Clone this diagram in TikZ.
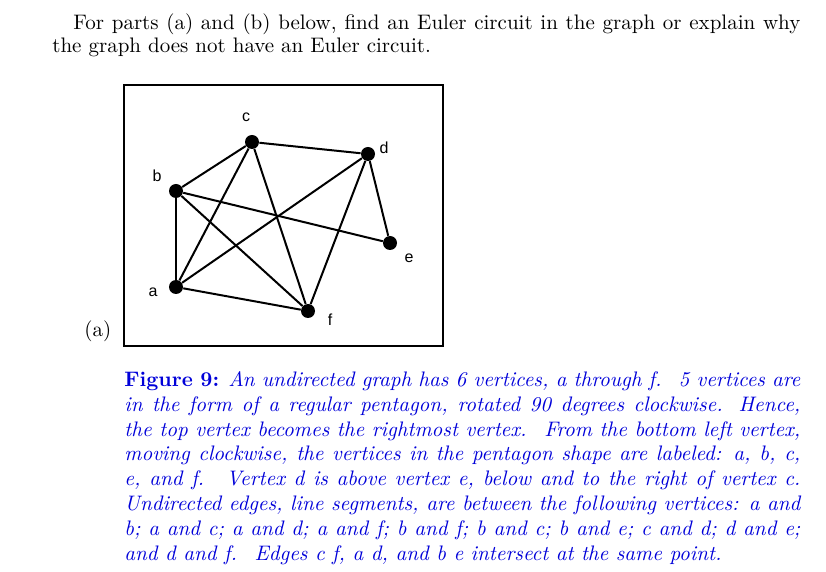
\documentclass[tikz,border=0pt]{standalone}
\usepackage{fontspec}
\newfontfamily\lblfont{Liberation Sans}
\begin{document}
\begin{tikzpicture}[x=0.5pt,y=-0.5pt,
  vtx/.style={circle,fill=black,inner sep=0pt,minimum size=7pt},
  lbl/.style={font=\lblfont\fontsize{8}{9}\selectfont},
  edge/.style={line width=1pt}]
\useasboundingbox (0,0) rectangle (826,572);
\node[anchor=north west,inner sep=0pt] (hdr) at (52,13) {\parbox{374pt}{\fontsize{10.5}{11.5}\selectfont\setlength{\parindent}{10.5pt}\indent For parts (a) and (b) below, find an Euler circuit in the graph or explain why the graph does not have an Euler circuit.}};
\draw[line width=0.6pt] (124,85) rectangle (443,346);
\node[anchor=base west,inner sep=0pt,font=\fontsize{10.5}{12}\selectfont] (pa) at (84,337) {(a)};
\node[vtx] (a) at (176,287) {};
\node[vtx] (b) at (176,191) {};
\node[vtx] (c) at (252,142) {};
\node[vtx] (d) at (368,154) {};
\node[vtx] (e) at (390,243) {};
\node[vtx] (f) at (308,311) {};
\node[lbl] (la) at (153,292) {a};
\node[lbl] (lb) at (157,176) {b};
\node[lbl] (lc) at (246,117) {c};
\node[lbl] (ld) at (384,148) {d};
\node[lbl] (le) at (409,258) {e};
\node[lbl] (lf) at (330,320) {f};
\foreach \u/\v in {a/b,a/c,a/d,a/f,b/f,b/c,b/e,c/d,c/f,d/e,d/f}
  \draw[edge] (\u) -- (\v);
\node[anchor=north west,inner sep=0pt,text=blue!85!black] (cap) at (124,371) {\parbox{338pt}{\fontsize{10.5}{12.4}\selectfont\textbf{Figure 9:} \itshape An undirected graph has 6 vertices, a through f. \ 5 vertices are in the form of a regular pentagon, rotated 90 degrees clockwise. Hence, the top vertex becomes the rightmost vertex. \ From the bottom left vertex, moving clockwise, the vertices in the pentagon shape are labeled: a, b, c, e, and f. \ Vertex d is above vertex e, below and to the right of vertex c. Undirected edges, line segments, are between the following vertices: a and b; a and c; a and d; a and f; b and f; b and c; b and e; c and d; d and e; and d and f. \ Edges c f, a d, and b e intersect at the same point.}};
\end{tikzpicture}
\end{document}
